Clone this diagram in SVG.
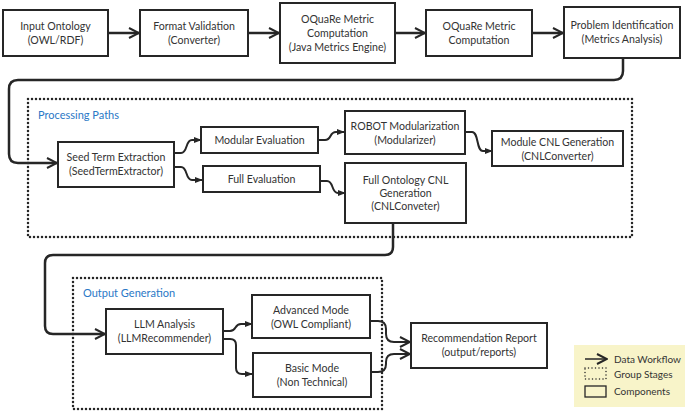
<svg xmlns="http://www.w3.org/2000/svg" width="685" height="413" viewBox="0 0 685 413">
<defs>
<style>
.box{fill:#fff;stroke:#262626;stroke-width:2}
.t{font-family:Lato,"Open Sans","Liberation Sans",sans-serif;font-size:10.6px;fill:#333;text-anchor:middle}
.lt{font-family:Lato,"Open Sans","Liberation Sans",sans-serif;font-size:10px;fill:#333}
.grp{fill:none;stroke:#262626;stroke-width:2.5;stroke-linecap:round;stroke-dasharray:0 4}
.glabel{font-family:Lato,"Open Sans","Liberation Sans",sans-serif;font-size:11px;fill:#2a78c6}
.c{fill:none;stroke:#262626;stroke-width:2.5;stroke-linejoin:round}
.cs{fill:none;stroke:#262626;stroke-width:2}
</style>
<marker id="open" viewBox="0 0 12 12" refX="11" refY="6" markerWidth="12" markerHeight="12" markerUnits="userSpaceOnUse" orient="auto">
<path d="M1,1 L11,6 L1,11" fill="none" stroke="#262626" stroke-width="2" stroke-linejoin="miter"/>
</marker>
<marker id="tri" viewBox="0 0 10 10" refX="9" refY="5" markerWidth="8" markerHeight="8" markerUnits="userSpaceOnUse" orient="auto">
<path d="M0,1 L10,5 L0,9 Z" fill="#262626"/>
</marker>
</defs>
<rect width="685" height="413" fill="#fff"/>

<g id="groups">
<rect class="grp" x="28" y="99" width="604" height="138"/>
<text class="glabel" x="38" y="119">Processing Paths</text>
<rect class="grp" x="73" y="278" width="309" height="131"/>
<text class="glabel" x="83" y="297">Output Generation</text>
</g>

<g id="connectors">
<path class="c" d="M108,33 H139" marker-end="url(#open)"/>
<path class="c" d="M248,33 H279" marker-end="url(#open)"/>
<path class="c" d="M395,33 H425" marker-end="url(#open)"/>
<path class="c" d="M532,33 H563" marker-end="url(#open)"/>
<path class="c" d="M623,58 V71 Q623,80 614,80 H18 Q9,80 9,89 V154 Q9,163 18,163 H57" marker-end="url(#open)"/>
<path class="cs" d="M174,153 H181 C188,153 185,140 192,140 H201" marker-end="url(#tri)"/>
<path class="cs" d="M174,167 H181 C188,167 185,180 192,180 H202" marker-end="url(#tri)"/>
<path class="cs" d="M318,140 H325 C332,140 329,132 336,132 H344" marker-end="url(#tri)"/>
<path class="cs" d="M320,181 H327 C334,181 331,193 338,193 H345" marker-end="url(#tri)"/>
<path class="cs" d="M465,132 H472 C479,132 476,151 483,151 H492" marker-end="url(#tri)"/>
<path class="c" d="M393,223 V247 Q393,255 385,255 H53 Q45,255 45,263 V326 Q45,334 53,334 H105" marker-end="url(#open)"/>
<path class="cs" d="M223,331 H230 C237,331 234,324 241,324 H252" marker-end="url(#tri)"/>
<path class="cs" d="M223,339 H230 Q236,339 236,345 V368 Q236,374 242,374 H252" marker-end="url(#tri)"/>
<path class="cs" d="M370,321 H378 Q386,321 386,329 V334 Q386,342 394,342 H410" marker-end="url(#open)"/>
<path class="cs" d="M371,372 H378 Q386,372 386,364 V362 Q386,354 394,354 H410" marker-end="url(#open)"/>
</g>

<g id="input-ontology">
<rect class="box" x="3" y="10" width="105" height="46"/>
<text class="t" x="55.5" y="30">Input Ontology</text>
<text class="t" x="55.5" y="44">(OWL/RDF)</text>
</g>
<g id="format-validation">
<rect class="box" x="140" y="10" width="108" height="46"/>
<text class="t" x="194" y="30">Format Validation</text>
<text class="t" x="194" y="44">(Converter)</text>
</g>
<g id="oquare-java">
<rect class="box" x="280" y="3" width="115" height="60"/>
<text class="t" x="337.5" y="23">OQuaRe Metric</text>
<text class="t" x="337.5" y="37">Computation</text>
<text class="t" x="337.5" y="51">(Java Metrics Engine)</text>
</g>
<g id="oquare-metric">
<rect class="box" x="426" y="10" width="106" height="46"/>
<text class="t" x="479" y="30">OQuaRe Metric</text>
<text class="t" x="479" y="44">Computation</text>
</g>
<g id="problem-identification">
<rect class="box" x="564" y="7" width="116" height="51"/>
<text class="t" x="622" y="29">Problem Identification</text>
<text class="t" x="622" y="43">(Metrics Analysis)</text>
</g>
<g id="seed-term">
<rect class="box" x="58" y="142" width="116" height="45"/>
<text class="t" x="116" y="161">Seed Term Extraction</text>
<text class="t" x="116" y="175">(SeedTermExtractor)</text>
</g>
<g id="modular-evaluation">
<rect class="box" x="201" y="127" width="117" height="26"/>
<text class="t" x="259.5" y="144">Modular Evaluation</text>
</g>
<g id="full-evaluation">
<rect class="box" x="203" y="166" width="117" height="26"/>
<text class="t" x="261.5" y="183">Full Evaluation</text>
</g>
<g id="robot-modularization">
<rect class="box" x="345" y="111" width="120" height="43"/>
<text class="t" x="405" y="130">ROBOT Modularization</text>
<text class="t" x="405" y="144">(Modularizer)</text>
</g>
<g id="module-cnl">
<rect class="box" x="492" y="131" width="131" height="35"/>
<text class="t" x="557.5" y="146">Module CNL Generation</text>
<text class="t" x="557.5" y="160">(CNLConverter)</text>
</g>
<g id="full-ontology-cnl">
<rect class="box" x="345" y="163" width="121" height="60"/>
<text class="t" x="405.5" y="184">Full Ontology CNL</text>
<text class="t" x="405.5" y="197">Generation</text>
<text class="t" x="405.5" y="210">(CNLConveter)</text>
</g>
<g id="llm-analysis">
<rect class="box" x="106" y="309" width="117" height="45"/>
<text class="t" x="164.5" y="328">LLM Analysis</text>
<text class="t" x="164.5" y="342">(LLMRecommender)</text>
</g>
<g id="advanced-mode">
<rect class="box" x="252" y="295" width="118" height="43"/>
<text class="t" x="311" y="314">Advanced Mode</text>
<text class="t" x="311" y="328">(OWL Compliant)</text>
</g>
<g id="basic-mode">
<rect class="box" x="253" y="353" width="118" height="44"/>
<text class="t" x="312" y="372">Basic Mode</text>
<text class="t" x="312" y="386">(Non Technical)</text>
</g>
<g id="recommendation-report">
<rect class="box" x="411" y="323" width="136" height="45"/>
<text class="t" x="479" y="342">Recommendation Report</text>
<text class="t" x="479" y="356">(output/reports)</text>
</g>

<g id="legend">
<rect x="574" y="345" width="111" height="62" fill="#f8f4c9"/>
<path d="M585,359 H607" fill="none" stroke="#262626" stroke-width="1.5" marker-end="url(#open)"/>
<text class="lt" x="614" y="362.5">Data Workflow</text>
<rect x="585" y="368" width="21" height="11" fill="none" stroke="#262626" stroke-width="1.5" stroke-linecap="round" stroke-dasharray="0 3.5"/>
<text class="lt" x="614" y="377.5">Group Stages</text>
<rect x="585" y="386" width="21" height="11" fill="none" stroke="#262626" stroke-width="1.3"/>
<text class="lt" x="614" y="395">Components</text>
</g>
</svg>
